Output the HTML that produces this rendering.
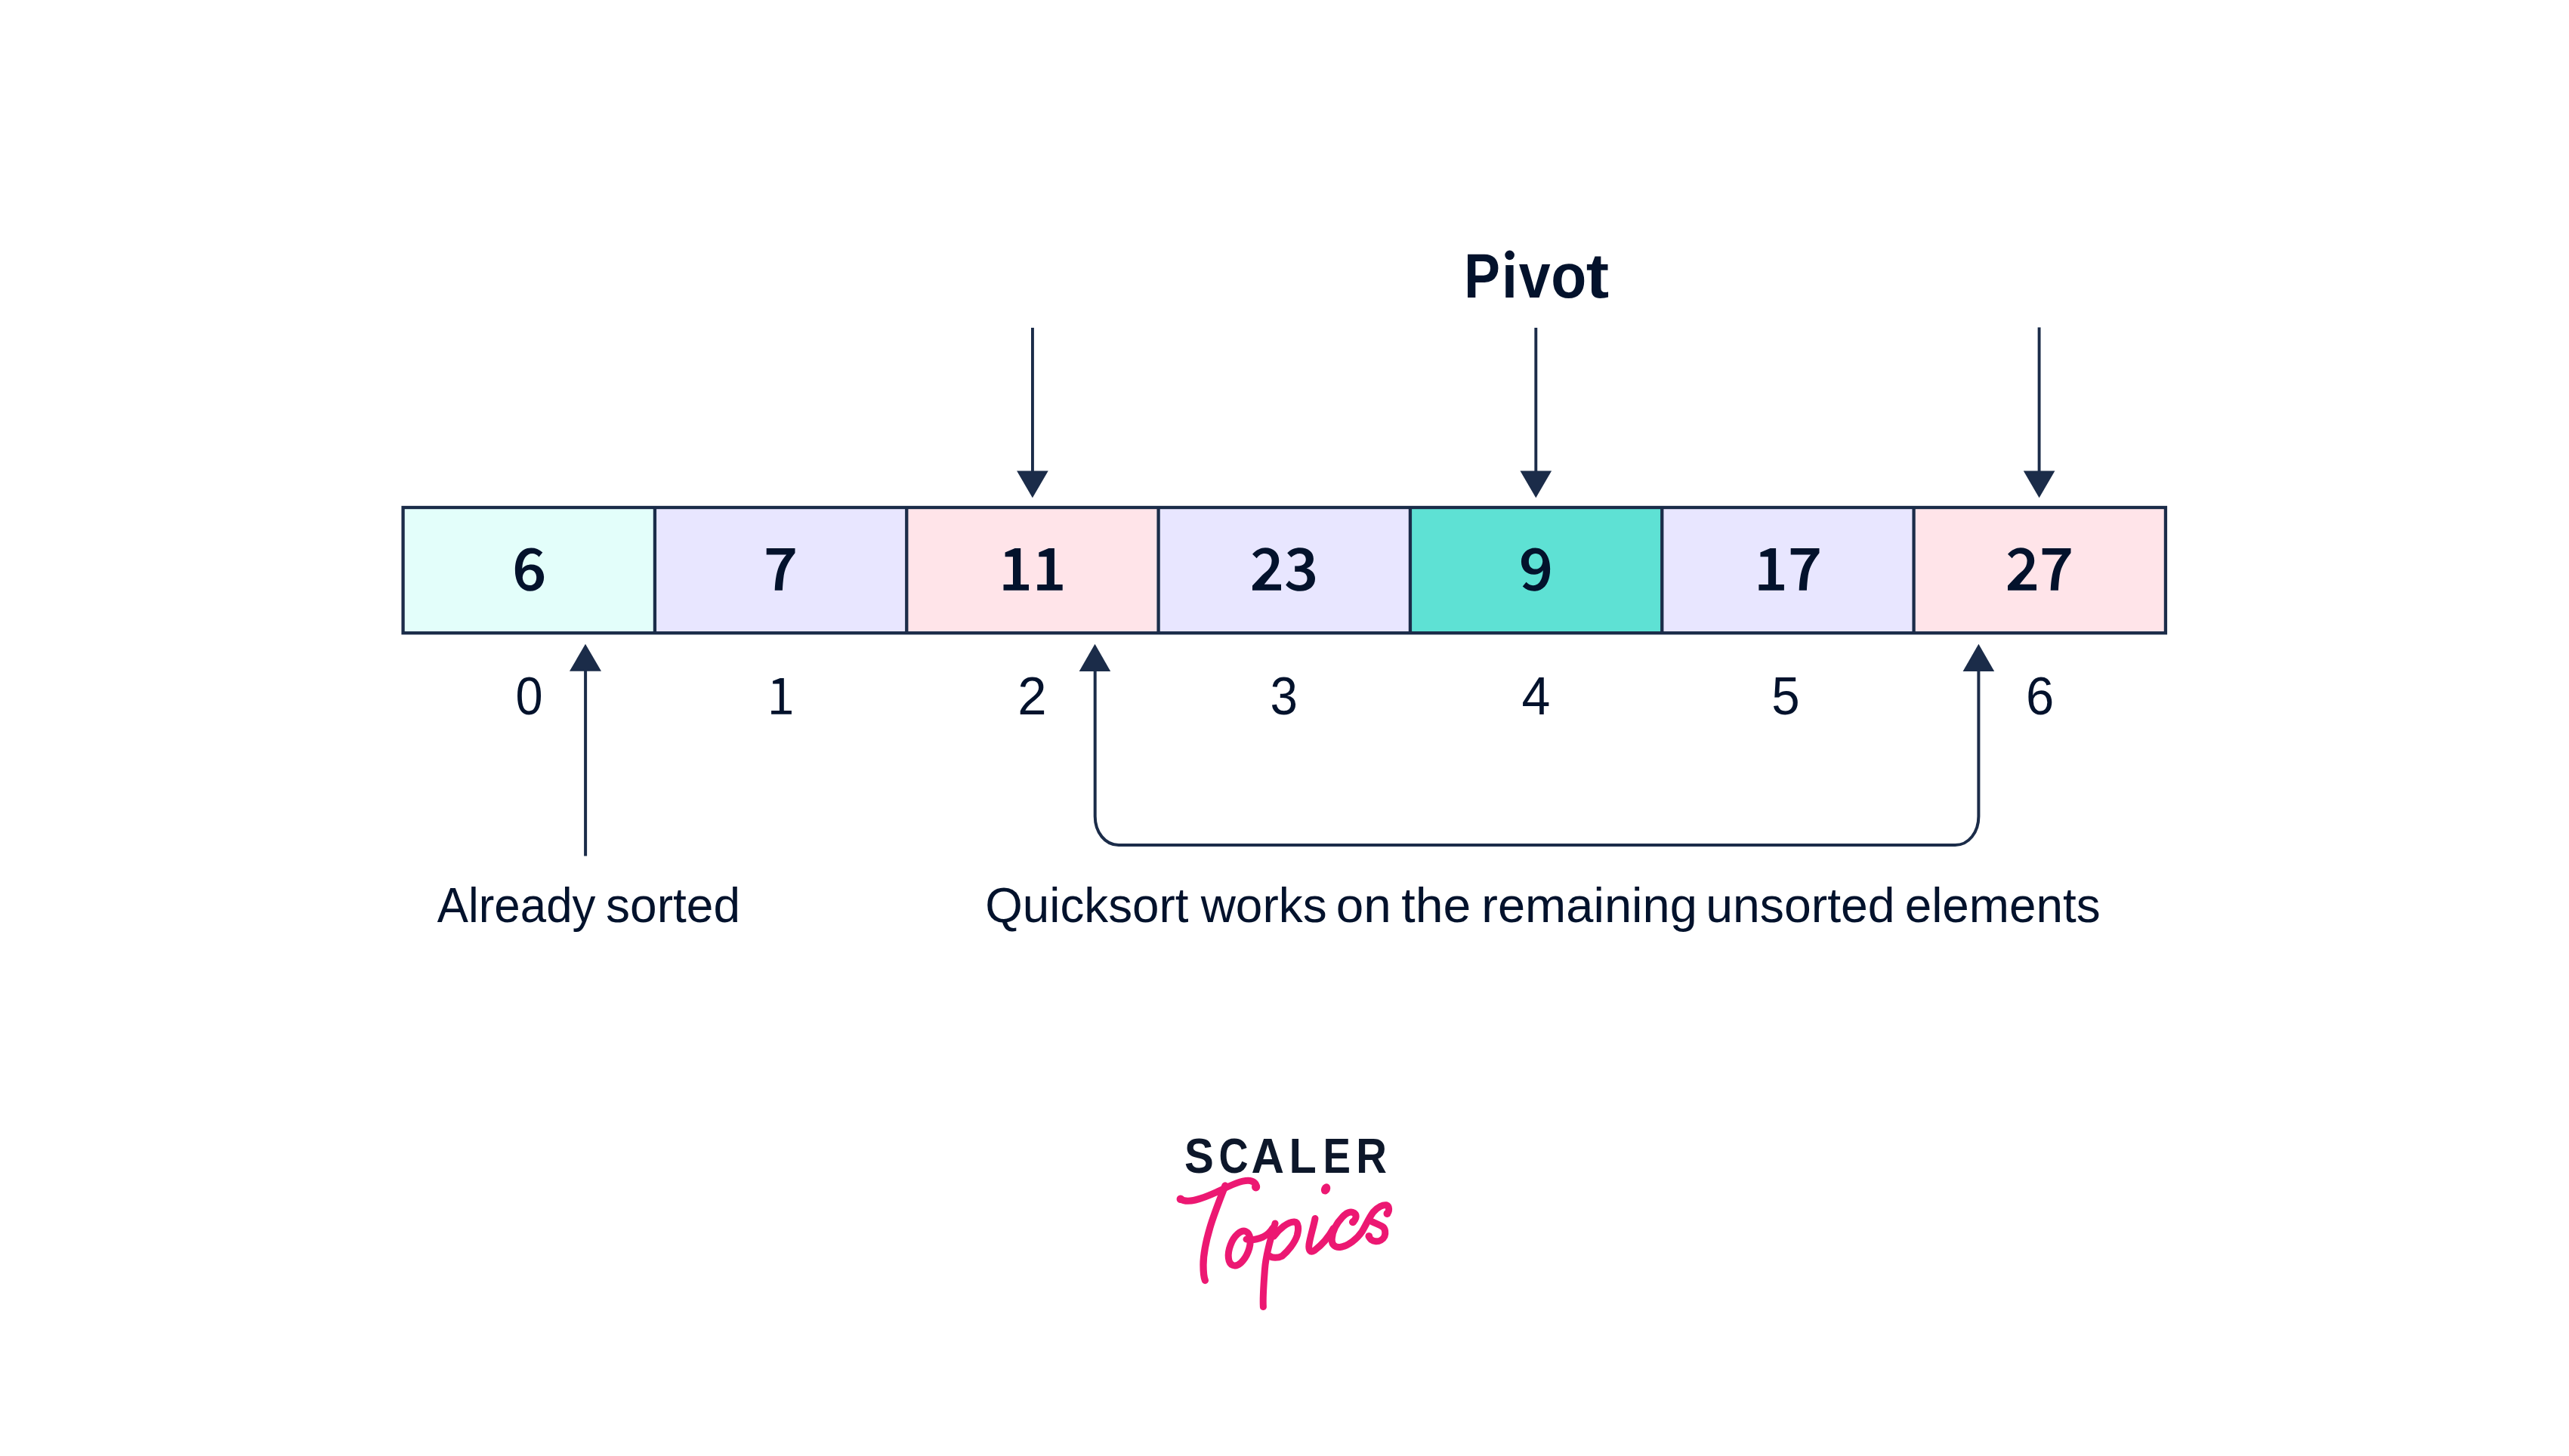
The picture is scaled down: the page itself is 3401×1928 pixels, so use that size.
<!DOCTYPE html>
<html>
<head>
<meta charset="utf-8">
<style>
html,body{margin:0;padding:0;background:#ffffff;}
body{width:3401px;height:1928px;overflow:hidden;}
svg{display:block;}
text{font-family:"Liberation Sans", sans-serif;}
</style>
</head>
<body>
<svg width="3401" height="1928" viewBox="0 0 3401 1928">
<rect x="0" y="0" width="3401" height="1928" fill="#ffffff"/>
<g>
<rect x="533.60" y="672.00" width="333.33" height="166.20" fill="#E3FEFA"/>
<rect x="866.93" y="672.00" width="333.33" height="166.20" fill="#E8E6FF"/>
<rect x="1200.27" y="672.00" width="333.33" height="166.20" fill="#FFE4E9"/>
<rect x="1533.60" y="672.00" width="333.33" height="166.20" fill="#E8E6FF"/>
<rect x="1866.93" y="672.00" width="333.33" height="166.20" fill="#5EE1D4"/>
<rect x="2200.27" y="672.00" width="333.33" height="166.20" fill="#E8E6FF"/>
<rect x="2533.60" y="672.00" width="333.33" height="166.20" fill="#FFE4E9"/>
</g>
<g stroke="#1B2C49" stroke-width="4.30" fill="none">
<rect x="533.60" y="672.00" width="2333.33" height="166.20"/>
<line x1="866.93" y1="672.00" x2="866.93" y2="838.20"/>
<line x1="1200.27" y1="672.00" x2="1200.27" y2="838.20"/>
<line x1="1533.60" y1="672.00" x2="1533.60" y2="838.20"/>
<line x1="1866.93" y1="672.00" x2="1866.93" y2="838.20"/>
<line x1="2200.27" y1="672.00" x2="2200.27" y2="838.20"/>
<line x1="2533.60" y1="672.00" x2="2533.60" y2="838.20"/>
</g>
<g fill="#03122C" font-weight="bold" font-size="81.30">
<path fill-rule="evenodd" d="M718.3,731.6 C714,727.3 709,725.4 703.2,725.4 C689,725.4 681.9,738 681.9,755 C681.9,772 690,782.8 701.5,782.8 C712.5,782.8 720.1,775 720.1,764.4 C720.1,754 713,747.4 703.8,747.4 C698,747.4 694,749.5 691.3,753 C691.6,741 696.5,733 704.6,733 C708.3,733 711,734.8 713.5,737.4 Z M701.2,754.6 C706.5,754.6 710.2,758.5 710.2,764.7 C710.2,771.2 706.5,775.1 701.2,775.1 C695.9,775.1 692.2,771 691.8,764.8 C692.3,758.6 695.9,754.6 701.2,754.6 Z"/>
<path transform="translate(1014.70,781.80)" d="M0,-55.9 H37.8 V-49.6 C31,-41 25,-32 23,-20 C22,-13 21.4,-6 21.2,0 H11 C11.3,-8 12,-16 14,-24 C17,-35 21,-41 26.5,-47.2 H0 Z"/>
<path transform="translate(1328.50,781.80)" d="M0,0 H33.5 V-7.9 H22.7 V-55.7 H15.1 L2.1,-50.4 V-44.6 H12.5 V-7.9 H0 Z"/>
<path transform="translate(1373.20,781.80)" d="M0,0 H33.5 V-7.9 H22.7 V-55.7 H15.1 L2.1,-50.4 V-44.6 H12.5 V-7.9 H0 Z"/>
<path transform="translate(0.00,0)" d="M1658,733.7 C1663.4,728.2 1668.9,725.3 1675,725.3 C1686,725.3 1693.2,732.3 1693.2,741.9 C1693.2,748 1690.8,752.5 1686.7,757.7 L1673.7,773.8 H1696 V781.7 H1658 V775.6 L1670.9,761.8 C1674,758.5 1676.5,757 1678.5,755 C1681.5,752 1683.6,748 1683.6,742.5 C1683.6,737 1680,733 1674.3,733 C1669.5,733 1666.1,735.7 1663.7,739.2 Z"/>
<path transform="translate(0.00,0)" d="M1704.2,732.3 C1708.5,727.8 1714,725.3 1721.1,725.3 C1731.5,725.3 1738.9,731 1738.9,740 C1738.9,746.5 1735,750.5 1729.6,752.6 C1736.5,754.5 1741,759.5 1741,766.2 C1741,776.5 1732.5,782.8 1721.1,782.8 C1712.5,782.8 1706,779.4 1702.2,774.5 L1706.6,769 C1710,772.6 1714.8,774.9 1720.5,774.9 C1726.5,774.9 1730.5,771.3 1730.5,765.9 C1730.5,760.3 1726.5,757 1719,757 H1714.2 V749.5 H1718.5 C1725,749.5 1728.8,745.8 1728.8,740.8 C1728.8,736 1725.3,733 1720.8,733 C1716.3,733 1712.8,735 1709.4,738.1 Z"/>
<path fill-rule="evenodd" transform="matrix(-1,0,0,-1,2734.05,1508.20)" d="M718.3,731.6 C714,727.3 709,725.4 703.2,725.4 C689,725.4 681.9,738 681.9,755 C681.9,772 690,782.8 701.5,782.8 C712.5,782.8 720.1,775 720.1,764.4 C720.1,754 713,747.4 703.8,747.4 C698,747.4 694,749.5 691.3,753 C691.6,741 696.5,733 704.6,733 C708.3,733 711,734.8 713.5,737.4 Z M701.2,754.6 C706.5,754.6 710.2,758.5 710.2,764.7 C710.2,771.2 706.5,775.1 701.2,775.1 C695.9,775.1 692.2,771 691.8,764.8 C692.3,758.6 695.9,754.6 701.2,754.6 Z"/>
<path transform="translate(2328.40,781.80)" d="M0,0 H33.5 V-7.9 H22.7 V-55.7 H15.1 L2.1,-50.4 V-44.6 H12.5 V-7.9 H0 Z"/>
<path transform="translate(2370.70,781.80)" d="M0,-55.9 H37.8 V-49.6 C31,-41 25,-32 23,-20 C22,-13 21.4,-6 21.2,0 H11 C11.3,-8 12,-16 14,-24 C17,-35 21,-41 26.5,-47.2 H0 Z"/>
<path transform="translate(1000.00,0)" d="M1658,733.7 C1663.4,728.2 1668.9,725.3 1675,725.3 C1686,725.3 1693.2,732.3 1693.2,741.9 C1693.2,748 1690.8,752.5 1686.7,757.7 L1673.7,773.8 H1696 V781.7 H1658 V775.6 L1670.9,761.8 C1674,758.5 1676.5,757 1678.5,755 C1681.5,752 1683.6,748 1683.6,742.5 C1683.6,737 1680,733 1674.3,733 C1669.5,733 1666.1,735.7 1663.7,739.2 Z"/>
<path transform="translate(2703.70,781.80)" d="M0,-55.9 H37.8 V-49.6 C31,-41 25,-32 23,-20 C22,-13 21.4,-6 21.2,0 H11 C11.3,-8 12,-16 14,-24 C17,-35 21,-41 26.5,-47.2 H0 Z"/>
</g>
<g fill="#03122C" font-size="70.20">
<text transform="translate(682.57,946.00) scale(0.9238,1)">0</text>
<path transform="translate(1021.10,945.70)" d="M0,0 H26.8 V-4.7 H16.7 V-47.6 H11.6 L2,-44 V-40.2 H10.8 V-4.7 H0 Z"/>
<text transform="translate(1347.13,946.00) scale(0.9818,1)">2</text>
<text transform="translate(1681.60,946.00) scale(0.9344,1)">3</text>
<text transform="translate(2014.44,946.00) scale(0.9696,1)">4</text>
<text transform="translate(2345.31,946.00) scale(0.9584,1)">5</text>
<text transform="translate(2682.00,946.00) scale(0.9539,1)">6</text>
</g>
<g fill="#03122C" font-weight="bold" font-size="83.10">
<text transform="translate(1938.32,394.00) scale(0.8591,1)">P</text>
<text transform="translate(2010.71,394.00) scale(0.9050,1)">v</text>
<text transform="translate(2053.29,394.00) scale(0.9262,1)">o</text>
<text transform="translate(2099.78,394.00) scale(1.0997,1)">t</text>
<rect x="1993.3" y="351.1" width="10.3" height="42.9"/>
<circle cx="1998.6" cy="337.9" r="6.3"/>
</g>
<g stroke="#1B2C49" stroke-width="3.9">
<line x1="1366.95" y1="434" x2="1366.95" y2="626"/>
<line x1="2033.3" y1="434" x2="2033.3" y2="626"/>
<line x1="2699.6" y1="433.5" x2="2699.6" y2="626"/>
</g>
<g fill="#1B2C49">
<polygon points="1346.1,623.4 1387.7,623.4 1366.9,659.3"/>
<polygon points="2012.5,623.4 2054.1,623.4 2033.3,659.3"/>
<polygon points="2678.8,623.4 2720.4,623.4 2699.6,659.3"/>
</g>
<g stroke="#1B2C49" stroke-width="4" fill="none">
<line x1="775.1" y1="885" x2="775.1" y2="1133.4"/>
<path d="M1449.7,885 L1449.7,1081 C1449.7,1102 1463,1119 1481,1119 L2588.4,1119 C2606.4,1119 2619.4,1102 2619.4,1081 L2619.4,885"/>
</g>
<g fill="#1B2C49">
<polygon points="754,888.8 796,888.8 775,852.8"/>
<polygon points="1428.7,888.9 1470.2,888.9 1449.5,852.7"/>
<polygon points="2598.6,888.9 2640.2,888.9 2619.4,852.7"/>
</g>
<g fill="#03122C" font-size="64.5">
<text transform="translate(578.80,1221.3) scale(0.9587,1)">Already</text>
<text transform="translate(802.01,1221.3) scale(0.9931,1)">sorted</text>
<text transform="translate(1304.13,1221.3) scale(0.9892,1)">Quicksort</text>
<text transform="translate(1589.70,1221.3) scale(0.9910,1)">works</text>
<text transform="translate(1768.64,1221.3) scale(1.0188,1)">on</text>
<text transform="translate(1855.27,1221.3) scale(1.0256,1)">the</text>
<text transform="translate(1961.27,1221.3) scale(1.0087,1)">remaining</text>
<text transform="translate(2258.21,1221.3) scale(0.9979,1)">unsorted</text>
<text transform="translate(2521.63,1221.3) scale(0.9898,1)">elements</text>
</g>
<g fill="#0D172A" font-weight="bold" font-size="65.4">
<text transform="translate(1568.12,1552.9) scale(0.8906,1)">S</text>
<text transform="translate(1613.38,1552.9) scale(0.8278,1)">C</text>
<text transform="translate(1656.60,1552.9) scale(0.9207,1)">A</text>
<text transform="translate(1706.42,1552.9) scale(0.9087,1)">L</text>
<text transform="translate(1751.44,1552.9) scale(0.8366,1)">E</text>
<text transform="translate(1795.33,1552.9) scale(0.8623,1)">R</text>
</g>
<g fill="none" stroke="#EC1872" stroke-linecap="round" stroke-linejoin="round" stroke-width="9">
<path d="M1562.9,1587.7 C1572,1594 1590,1588 1611,1578.4 C1630,1569 1645,1562 1655,1563.5 C1661,1564.5 1664,1569 1662.9,1572"/>
<path d="M1622,1570 C1615,1588 1607,1608 1602,1625 C1597,1642 1593,1660 1593,1675 C1593,1685 1593.5,1691 1595.4,1695.5" stroke-width="9.3"/>
<ellipse cx="1640.7" cy="1653" rx="12.5" ry="24" transform="rotate(21 1640.7 1653)"/>
<path d="M1650,1641 C1656,1642.5 1665,1641 1672,1638 C1678,1635 1682,1631 1685,1626"/>
<path d="M1688.1,1620 C1682,1640 1676,1660 1674.5,1680 C1673,1700 1671.5,1718 1672.4,1730.6"/>
<path d="M1686.4,1637 C1693,1628 1705,1617.5 1713.5,1618 C1719.5,1618.5 1719.5,1628 1717.2,1636 C1714,1646 1705,1657 1697.4,1663.2 C1692,1666 1684,1666 1680.9,1663.2"/>
<path d="M1741,1613.5 C1738.5,1626 1734.5,1638 1733,1648 C1732,1656 1735,1659 1740,1656 C1748,1650 1758,1640 1765.3,1626.5"/>
<path d="M1791,1618.2 C1795,1615 1797,1609 1792.5,1606.1 C1788,1603.5 1782,1606 1777.4,1611.4 C1770,1619 1764,1630 1763.3,1640 C1762.5,1648 1767,1652 1774,1651.5 C1785,1650 1797,1640 1803,1631 C1808,1623 1812,1613 1818,1605 C1824,1598 1831,1595 1835.5,1595.8 C1839.5,1597 1839.5,1604 1836.4,1607"/>
<path d="M1816,1617.5 C1821,1620 1827,1622 1830.5,1624.5 C1834,1627 1834.5,1633 1833,1637 C1831,1641.5 1826,1644 1821.5,1643.8 C1817,1643.5 1813.5,1641 1812.3,1637"/>
</g>
<g fill="#EC1872">
<circle cx="1562.9" cy="1587.7" r="5.3"/>
<circle cx="1662.6" cy="1571.8" r="5.6"/>
<circle cx="1791" cy="1618.2" r="5"/>
<circle cx="1836.4" cy="1607" r="4.9"/>
<circle cx="1812.3" cy="1637" r="4.8"/>
<ellipse cx="1755.1" cy="1574.4" rx="5.9" ry="7.4" transform="rotate(25 1755.1 1574.4)"/>
</g>
</svg>
</body>
</html>
